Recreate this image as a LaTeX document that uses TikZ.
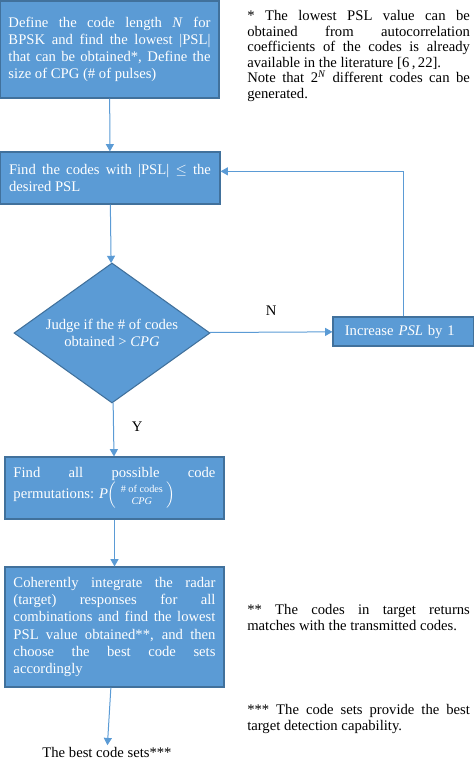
\documentclass[tikz,border=0pt]{standalone}
\usepackage{amsmath}
\usepackage{fontspec}
\setmainfont{Liberation Serif}
\usepackage{xcolor}
\usetikzlibrary{arrows.meta,shapes.geometric}
\definecolor{stepfill}{HTML}{5B9BD5}
\definecolor{stepedge}{HTML}{41719C}
\definecolor{flowline}{HTML}{5B9BD5}
\newcommand{\flowfont}{\fontsize{11}{12.8}\selectfont\hyphenpenalty=10000 }
\newcommand{\notefont}{\fontsize{11}{11.7}\selectfont\hyphenpenalty=10000 }
\tikzset{
  stepbox/.style={rectangle,draw=stepedge,fill=stepfill,text=white,line width=0.8pt,
    font=\flowfont,align=justify,inner sep=0pt},
  judge/.style={diamond,aspect=1.4,draw=stepedge,fill=stepfill,text=white,line width=0.8pt,
    font=\flowfont,align=center,inner sep=0pt},
  flow/.style={draw=flowline,line width=0.75pt,-{Triangle[width=6pt,length=5.5pt]}},
  footnote/.style={anchor=north west,inner sep=0pt,text width=167pt,align=justify,
    font=\notefont}
}
\begin{document}
\begin{tikzpicture}[x=0.75pt,y=-0.75pt]
                \useasboundingbox (0,0) rectangle (474,760);
                \node[stepbox,minimum width=164.25pt,minimum height=72.75pt,text width=151.5pt] (define) at (109.5,49.5)
                  {Define the code length \textit{N} for\linebreak BPSK and find the lowest |PSL|\linebreak that can be obtained*, Define the\linebreak size of CPG (\# of pulses)};
                \node[stepbox,minimum width=165pt,minimum height=39pt,text width=151.5pt] (find) at (110,178)
                  {Find the codes with |PSL| $\leq$ the\linebreak desired PSL};
                \node[judge,minimum width=147pt,minimum height=105pt] (judge) at (112,333)
                  {Judge if the \# of codes\\obtained > \textit{CPG}};
                \node[stepbox,minimum width=105.75pt,minimum height=21.75pt,text width=88pt,align=left] (inc) at (403.5,331.5)
                  {Increase \textit{PSL} by 1};
                \node[stepbox,minimum width=164.25pt,minimum height=46.5pt,text width=151.5pt] (perm) at (114.5,488)
                  {Find all possible code\linebreak permutations: \textit{P}$\Bigl(\,\genfrac{}{}{0pt}{1}{\text{\# of codes}\rule[-1.5pt]{0pt}{0pt}}{\rule{0pt}{6pt}\mathit{CPG}}\,\Bigr)$};
                \node[stepbox,minimum width=164.25pt,minimum height=90pt,text width=151.5pt] (integ) at (114.5,627)
                  {Coherently integrate the radar\linebreak (target) responses for all\linebreak combinations and find the lowest\linebreak PSL value obtained**, and then\linebreak choose the best code sets\linebreak accordingly};
                \node[font=\flowfont,inner sep=1pt] (best) at (107,752) {The best code sets***};
                % notes on the right
                \node[footnote] (note1) at (247,10)
                  {* The lowest PSL value can be\linebreak obtained from autocorrelation\linebreak coefficients of the codes is already\linebreak available in the literature [6\,,\,22].\newline Note that 2\textsuperscript{\textit{N}} different codes can be\linebreak generated.};
                \node[footnote] (note2) at (247,604)
                  {** The codes in target returns\linebreak matches with the transmitted codes.};
                \node[footnote] (note3) at (247,704)
                  {*** The code sets provide the best\linebreak target detection capability.};
                % connectors
                \draw[flow] (define) -- (find);
                \draw[flow] (find) -- (judge);
                \draw[flow] (judge) -- node[above=9pt,text=black,font=\flowfont] (no) {N} (inc);
                \draw[flow] (inc.north) |- ([yshift=5pt]find.east);
                \draw[flow] (judge) -- node[right=10pt,text=black,font=\flowfont,pos=0.45] (yes) {Y} (perm);
                \draw[flow] (perm) -- (integ);
                \draw[flow] (integ) -- (best);
\end{tikzpicture}
\end{document}
